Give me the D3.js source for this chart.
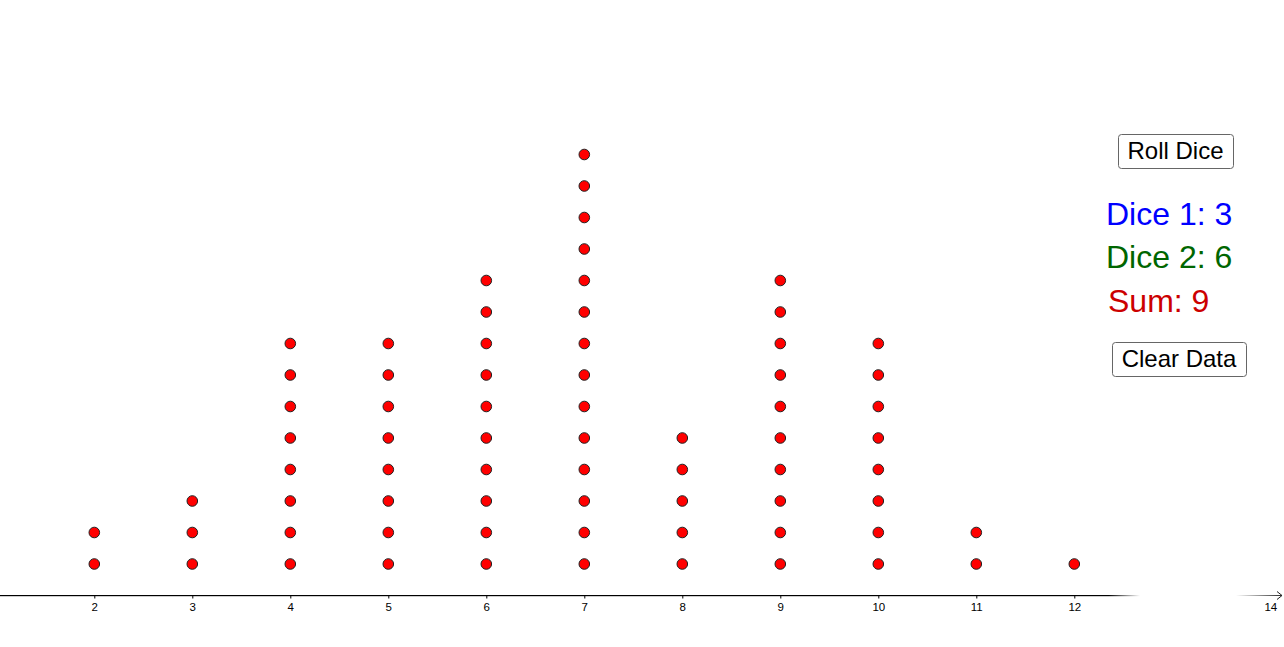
<!DOCTYPE html>
<html>
<head>
<meta charset="utf-8">
<script src="https://cdn.jsdelivr.net/npm/d3@7"></script>
<style>
  html, body { margin: 0; padding: 0; background: #fff; overflow: hidden; }
  svg { display: block; font-family: "Liberation Sans", Arial, sans-serif; }
</style>
</head>
<body>
<div id="chart"></div>
<script>
// dice sums and how many times each came up
const sums = [2, 3, 4, 5, 6, 7, 8, 9, 10, 11, 12];
const counts = [2, 3, 8, 8, 10, 14, 5, 10, 8, 2, 1];
const tickValues = [2, 3, 4, 5, 6, 7, 8, 9, 10, 11, 12, 14];
const dice1 = 3;
const dice2 = 6;

const W = 1284, H = 647;

var svg = d3.select("#chart").append("svg")
    .attr("width", W)
    .attr("height", H);

// view window in graph units (like the graphics view)
var x = d3.scaleLinear().domain([2 + (0 - 94.3) / 98, 2 + (1284 - 94.3) / 98]).range([0, W]);
var y = d3.scaleLinear().domain([0, 595.5 / 31.5]).range([595.5, 0]);

// one point per roll: (sum, k) for k = 1..count
var points = [];
sums.forEach(function(s, i) {
    for (var k = 1; k <= counts[i]; k++) {
        points.push({ s: s, k: k });
    }
});

var defs = svg.append("defs");
var g1 = defs.append("linearGradient").attr("id", "fadeOut")
    .attr("gradientUnits", "userSpaceOnUse")
    .attr("x1", x(12.35)).attr("x2", x(12.67)).attr("y1", 0).attr("y2", 0);
g1.append("stop").attr("offset", 0).attr("stop-color", "#000").attr("stop-opacity", 1);
g1.append("stop").attr("offset", 1).attr("stop-color", "#000").attr("stop-opacity", 0);
var g2 = defs.append("linearGradient").attr("id", "fadeIn")
    .attr("gradientUnits", "userSpaceOnUse")
    .attr("x1", x(13.65)).attr("x2", x(14.1)).attr("y1", 0).attr("y2", 0);
g2.append("stop").attr("offset", 0).attr("stop-color", "#000").attr("stop-opacity", 0);
g2.append("stop").attr("offset", 1).attr("stop-color", "#000").attr("stop-opacity", 0.8);

// x axis
var axisY = y(0);
svg.append("rect")
    .attr("x", 0).attr("y", axisY - 0.5)
    .attr("width", x(12.67)).attr("height", 1.2)
    .attr("fill", "url(#fadeOut)");
svg.append("rect")
    .attr("x", x(13.65)).attr("y", axisY - 0.5)
    .attr("width", x(14.14) - x(13.65) - 2).attr("height", 1)
    .attr("fill", "url(#fadeIn)");
svg.append("path")
    .attr("d", "M" + (W - 7) + "," + (axisY - 4) + " L" + (W - 2) + "," + axisY + " L" + (W - 7) + "," + (axisY + 4))
    .attr("fill", "none").attr("stroke", "#222").attr("stroke-width", 1);

var axis = d3.axisBottom(x)
    .tickValues(tickValues)
    .tickSize(3)
    .tickSizeOuter(0)
    .tickFormat(d3.format("d"));
var ax = svg.append("g")
    .attr("transform", "translate(0," + axisY + ")")
    .call(axis);
ax.select(".domain").remove();
ax.selectAll(".tick line").attr("stroke", "#000");
ax.selectAll(".tick").filter(function(d) { return d === 14; }).select("line").remove();
ax.selectAll(".tick text")
    .attr("y", 7)
    .attr("dy", "0.71em")
    .attr("fill", "#000")
    .style("font-size", "11.5px")
    .style("font-family", "'Liberation Sans', Arial, sans-serif");

// dots
svg.append("g").selectAll("circle")
    .data(points)
    .enter()
    .append("circle")
    .attr("cx", function(d) { return x(d.s); })
    .attr("cy", function(d) { return y(d.k); })
    .attr("r", 5.3)
    .attr("fill", "#ff0000")
    .attr("stroke", "#222")
    .attr("stroke-width", 1);

// buttons
function button(cx, cy, w, h, label) {
    var b = svg.append("g");
    b.append("rect")
        .attr("x", cx - w / 2 + 0.5).attr("y", cy - h / 2 + 0.5)
        .attr("width", w).attr("height", h)
        .attr("rx", 3).attr("ry", 3)
        .attr("fill", "#fff")
        .attr("stroke", "#666").attr("stroke-width", 1);
    b.append("text")
        .attr("x", cx).attr("y", cy + 7.5)
        .attr("text-anchor", "middle")
        .style("font-size", "24px")
        .attr("fill", "#000")
        .text(label);
}
button(1175.5, 151, 115, 34, "Roll Dice");
button(1179, 359, 134, 34, "Clear Data");

// readouts
var info = [
    { text: "Dice 1: " + dice1, color: "#0000ff", x: 1106, y: 225 },
    { text: "Dice 2: " + dice2, color: "#006600", x: 1106, y: 268 },
    { text: "Sum: " + (dice1 + dice2), color: "#cc0000", x: 1108, y: 312 }
];
svg.append("g").selectAll("text")
    .data(info)
    .enter()
    .append("text")
    .attr("x", function(d) { return d.x; })
    .attr("y", function(d) { return d.y; })
    .attr("fill", function(d) { return d.color; })
    .style("font-size", "32px")
    .text(function(d) { return d.text; });
</script>
</body>
</html>
